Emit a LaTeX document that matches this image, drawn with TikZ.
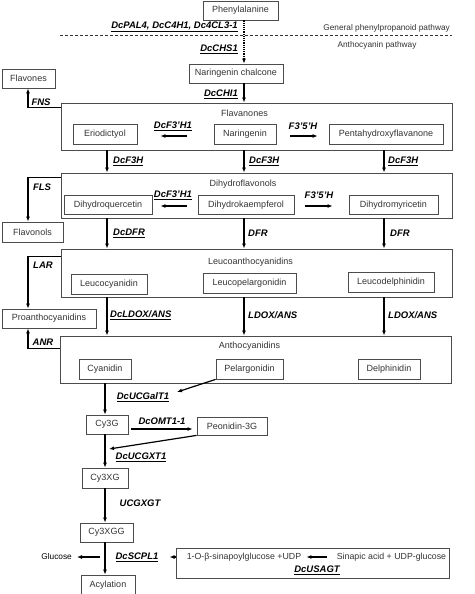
\documentclass[tikz,border=0pt]{standalone}
\usepackage{fontspec}
\setmainfont{Liberation Sans}
\usetikzlibrary{arrows.meta}
\definecolor{linegray}{gray}{0.3}
\definecolor{textgray}{gray}{0.2}
\tikzset{
  compound/.style={draw=linegray, line width=0.8pt, text=textgray, inner sep=0pt, minimum height=20pt, font=\fontsize{9}{11}\selectfont},
  groupbox/.style={draw=linegray, line width=0.9pt, inner sep=0pt},
  grouptitle/.style={text=textgray, inner sep=0pt, font=\fontsize{9}{11}\selectfont},
  enzyme/.style={inner sep=0pt, font=\fontsize{9.5}{11}\selectfont\bfseries\itshape},
  pathnote/.style={text=textgray, inner sep=0pt, font=\fontsize{8.3}{10}\selectfont},
  reaction/.style={-{Latex[length=5pt,width=4pt]}, line width=1.2pt},
}

\begin{document}
\begin{tikzpicture}[x=1pt,y=-1pt]
\useasboundingbox (0,0) rectangle (474,594);
\coordinate (colA) at (107,0);
\coordinate (colB) at (244,0);
\coordinate (colC) at (384,0);
\coordinate (colD) at (105,0);
\coordinate (rail) at (28,0);

\node[compound, minimum width=75pt, minimum height=19pt] (phe) at (240.5,10.5) {Phenylalanine};
\node[compound, minimum width=94pt, minimum height=19pt] (chalcone) at (236,73.5) {Naringenin chalcone};
\node[compound, minimum width=53pt, minimum height=19pt] (flavones) at (28.5,78.5) {Flavones};

\draw[black!80, dashed, line width=0.7pt, dash pattern=on 3pt off 2pt] (60,35) -- (452,35);
\node[pathnote, anchor=east] (general) at (450,28) {General phenylpropanoid pathway};
\node[pathnote] (antho) at (377,45) {Anthocyanin pathway};

\node[groupbox, minimum width=391pt, minimum height=47pt] (flavanones) at (256.5,126.5) {};
\node[grouptitle] (flavanonestitle) at (244.5,113) {Flavanones};
\node[compound, minimum width=64pt] (eriod) at (105,134) {Eriodictyol};
\node[compound, minimum width=62pt] (narin) at (245,134) {Naringenin};
\node[compound, minimum width=114pt] (penta) at (386,134) {Pentahydroxyflavanone};

\node[groupbox, minimum width=391pt, minimum height=45pt] (dihydro) at (256.5,195.5) {};
\node[grouptitle] (dihydrotitle) at (243,184) {Dihydroflavonols};
\node[compound, minimum width=88pt, minimum height=19pt] (dhq) at (108,205) {Dihydroquercetin};
\node[compound, minimum width=96pt, minimum height=19pt] (dhk) at (246,205) {Dihydrokaempferol};
\node[compound, minimum width=89pt, minimum height=19pt] (dhm) at (393.5,205) {Dihydromyricetin};
\node[compound, minimum width=61pt] (flavonols) at (32.5,232) {Flavonols};

\node[groupbox, minimum width=391pt, minimum height=48pt] (leuco) at (256.5,273) {};
\node[grouptitle] (leucotitle) at (250.5,262) {Leucoanthocyanidins};
\node[compound, minimum width=76pt] (lcy) at (109,284) {Leucocyanidin};
\node[compound, minimum width=93pt] (lpg) at (249.5,283) {Leucopelargonidin};
\node[compound, minimum width=86pt] (ldp) at (391,282) {Leucodelphinidin};
\node[compound, minimum width=94pt, minimum height=19pt] (proan) at (49,318.5) {Proanthocyanidins};

\node[groupbox, minimum width=391pt, minimum height=47pt] (anthocy) at (255.5,359.5) {};
\node[grouptitle] (anthocytitle) at (249.5,346) {Anthocyanidins};
\node[compound, minimum width=52pt] (cya) at (105,369) {Cyanidin};
\node[compound, minimum width=67pt] (pel) at (249.5,369) {Pelargonidin};
\node[compound, minimum width=62pt] (del) at (389,369) {Delphinidin};

\node[compound, minimum width=42pt, minimum height=19pt] (cy3g) at (107,424.5) {Cy3G};
\node[compound, minimum width=70pt, minimum height=18pt] (peo) at (232,426) {Peonidin-3G};
\node[compound, minimum width=46pt] (cy3xg) at (105,478) {Cy3XG};
\node[compound, minimum width=53pt, minimum height=19pt] (cy3xgg) at (106.5,532.5) {Cy3XGG};
\node[compound, minimum width=54pt] (acyl) at (108,585) {Acylation};
\node[pathnote, text=black, anchor=east] (glucose) at (72,557) {Glucose};

\node[groupbox, minimum width=273pt, minimum height=30pt] (sinbox) at (312.5,563) {};
\node[pathnote, font=\fontsize{8.8}{10}\selectfont] (sinapoyl) at (244,557) {1-O-β-sinapoylglucose +UDP};
\node[pathnote, font=\fontsize{8.8}{10}\selectfont] (sinapic) at (391.5,557) {Sinapic acid + UDP-glucose};

\coordinate (galtip) at (177,392);
\coordinate (gxttip) at (109,449);

\draw[reaction, densely dotted] (colB |- phe.south) -- (colB |- chalcone.north);
\draw[reaction] (colB |- chalcone.south) -- (colB |- flavanones.north);
\draw[reaction] ([yshift=-5pt]flavanones.north west) -| (rail |- flavones.south);
\draw[reaction] ([xshift=-27pt,yshift=-2pt]narin.west) -- ([xshift=23pt,yshift=-2pt]eriod.east);
\draw[reaction] ([xshift=14pt,yshift=-2pt]narin.east) -- ([xshift=-11pt,yshift=-2pt]penta.west);
\foreach \col in {colA,colB,colC}
  \draw[reaction] (\col |- flavanones.south) -- (\col |- dihydro.north);
\draw[reaction] ([yshift=-5pt]dihydro.north west) -| (rail |- flavonols.north);
\draw[reaction] ([xshift=-11pt,yshift=-1pt]dhk.west) -- ([xshift=8pt,yshift=-1pt]dhq.east);
\draw[reaction] ([xshift=11pt,yshift=-1pt]dhk.east) -- ([xshift=-16pt,yshift=-1pt]dhm.west);
\foreach \col in {colA,colB,colC}
  \draw[reaction] (\col |- dihydro.south) -- (\col |- leuco.north);
\draw[reaction] ([yshift=-8pt]leuco.north west) -| (rail |- proan.north);
\foreach \col in {colA,colB,colC}
  \draw[reaction] (\col |- leuco.south) -- (\col |- anthocy.north);
\draw[reaction] ([yshift=-13pt]anthocy.north west) -| (rail |- proan.south);
\draw[reaction] (pel.south west) -- (galtip);
\draw[reaction] (colD |- anthocy.south) -- (colD |- cy3g.north);
\draw[reaction] ([xshift=3pt,yshift=-4.5pt]cy3g.east) -- ([xshift=-4pt,yshift=-3pt]peo.west);
\draw[reaction] (peo.south west) -- (gxttip);
\draw[reaction] (colD |- cy3g.south) -- (colD |- cy3xg.north);
\draw[reaction] (colD |- cy3xg.south) -- (colD |- cy3xgg.north);
\draw[reaction] (colD |- cy3xgg.south) -- (colD |- acyl.north);
\draw[reaction] ([xshift=28pt]glucose.east) -- ([xshift=5pt]glucose.east);
\draw[reaction] (sinbox.west |- glucose) -- ([xshift=-6pt]sinbox.west |- glucose);
\draw[reaction] ([xshift=-10pt]sinapic.west) -- ([xshift=5pt]sinapoyl.east);

\node[enzyme, anchor=east] (pal) at (238,27) {\underline{DcPAL4, DcC4H1, Dc4CL3-1}};
\node[enzyme, anchor=east] (chs) at (238,49) {\underline{DcCHS1}};
\node[enzyme, anchor=east] (chi) at (238,94) {\underline{DcCHI1}};
\node[enzyme] (fns) at (41,102) {FNS};
\node[enzyme] (f3ha) at (173,126) {\underline{DcF3'H1}};
\node[enzyme] (f35ha) at (303,126) {F3'5'H};
\node[enzyme, anchor=west] (f3hA) at (113,161) {\underline{DcF3H}};
\node[enzyme, anchor=west] (f3hB) at (249,161) {\underline{DcF3H}};
\node[enzyme, anchor=west] (f3hC) at (388,161) {\underline{DcF3H}};
\node[enzyme] (fls) at (42,187) {FLS};
\node[enzyme] (f3hb) at (173,195) {\underline{DcF3'H1}};
\node[enzyme] (f35hb) at (319,195) {F3'5'H};
\node[enzyme, anchor=west] (dfrA) at (113,233) {\underline{DcDFR}};
\node[enzyme, anchor=west] (dfrB) at (248,233) {DFR};
\node[enzyme, anchor=west] (dfrC) at (390,233) {DFR};
\node[enzyme] (lar) at (43,265) {LAR};
\node[enzyme, anchor=west] (ldoxA) at (110,315) {\underline{DcLDOX/ANS}};
\node[enzyme, anchor=west] (ldoxB) at (248,315) {LDOX/ANS};
\node[enzyme, anchor=west] (ldoxC) at (388,315) {LDOX/ANS};
\node[enzyme] (anr) at (43,342) {ANR};
\node[enzyme] (galt) at (143,397) {\underline{DcUCGalT1}};
\node[enzyme] (omt) at (162,421) {DcOMT1-1};
\node[enzyme] (gxt) at (141,457) {\underline{DcUCGXT1}};
\node[enzyme] (gxgt) at (140,503) {UCGXGT};
\node[enzyme] (scpl) at (137,557) {\underline{DcSCPL1}};
\node[enzyme] (usagt) at (317,570) {\underline{DcUSAGT}};
\end{tikzpicture}
\end{document}
